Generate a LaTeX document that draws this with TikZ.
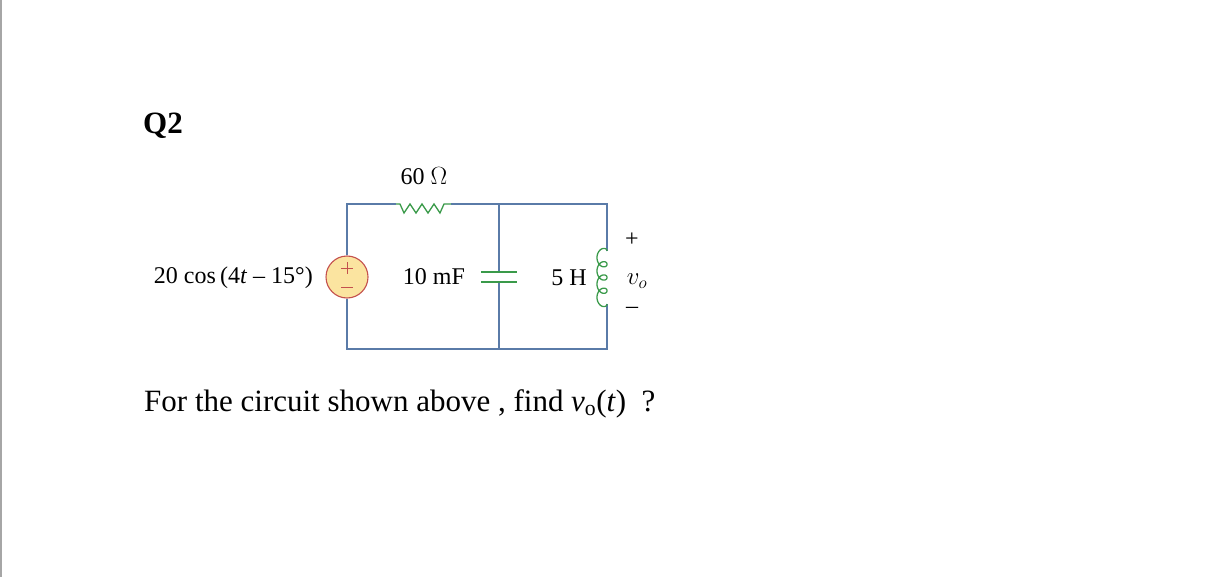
\documentclass[tikz,border=0pt]{standalone}
\usepackage{fontspec}
\setmainfont{Liberation Serif}
\definecolor{wire}{HTML}{5A7BA8}
\definecolor{comp}{HTML}{3A9A4A}
\definecolor{srcfill}{HTML}{FBE4A0}
\definecolor{srcedge}{HTML}{C4504D}
\begin{document}
\begin{tikzpicture}[x=1pt,y=-1pt,
  wirestyle/.style={draw=wire,line width=1.1pt},
  compstyle/.style={draw=comp,line width=1.3pt},
  lbl/.style={font=\fontsize{24}{26}\selectfont,inner sep=0}]
\useasboundingbox (0,0) rectangle (1209,577);
\draw[gray!70,line width=1.2pt] (1,0) -- (1,577);
\node[font=\bfseries\fontsize{31}{33}\selectfont,anchor=west,inner sep=0] (q) at (143,126) {Q2};
\coordinate (tl) at (347,204); \coordinate (tm) at (499,204); \coordinate (tr) at (607,204);
\coordinate (bl) at (347,349); \coordinate (bm) at (499,349); \coordinate (br) at (607,349);
\coordinate (r1) at (396,204); \coordinate (r2) at (451,204);
\coordinate (c1) at (499,272); \coordinate (c2) at (499,282);
\coordinate (l1) at (607,251); \coordinate (l2) at (607,304);
\node[circle,draw=srcedge,fill=srcfill,line width=1.1pt,minimum size=42pt,inner sep=0] (src) at (347,277) {};
\draw[srcedge,line width=1pt] (341,268) -- (353,268) (347,262) -- (347,274) (341,287) -- (353,287);
\draw[wirestyle] (src.north) -- (tl) -- (r1) (r2) -- (tm) -- (tr) -- (l1)
  (l2) -- (br) -- (bm) -- (bl) -- (src.south)
  (tm) -- (c1) (c2) -- (bm);
\draw[compstyle] (r1) -- ++(4,0) -- ++(4,9) -- ++(6,-9) -- ++(6,9) -- ++(6,-9) -- ++(6,9) -- ++(6,-9) -- ++(6,9) -- ++(4,-9) -- (r2);
\draw[compstyle] (481,272) -- (517,272) (481,282) -- (517,282);
\draw[compstyle,domain=0:1440,samples=400,smooth] plot ({602+5*cos(\x)},{251+0.0368*\x-5.5*sin(\x)});
\node[lbl,anchor=east] (sl) at (313,278) {20 cos$\,$(4\textit{t} -- 15°)};
\node[lbl] (rl) at (424,176) {60 $\Omega$};
\node[lbl] (cl) at (434,277) {10 mF};
\node[lbl] (ll) at (569,278) {5 H};
\node[lbl] (pl) at (632,240) {+};
\node[lbl] (vl) at (637,281) {$v_o$};
\node[lbl] (ml) at (632,310) {--};
\node[font=\fontsize{31}{34}\selectfont,anchor=west,inner sep=0] (q2) at (144,404) {For the circuit shown above , find \textit{v}\textsubscript{o}(\textit{t})\ \ ?};
\end{tikzpicture}
\end{document}
